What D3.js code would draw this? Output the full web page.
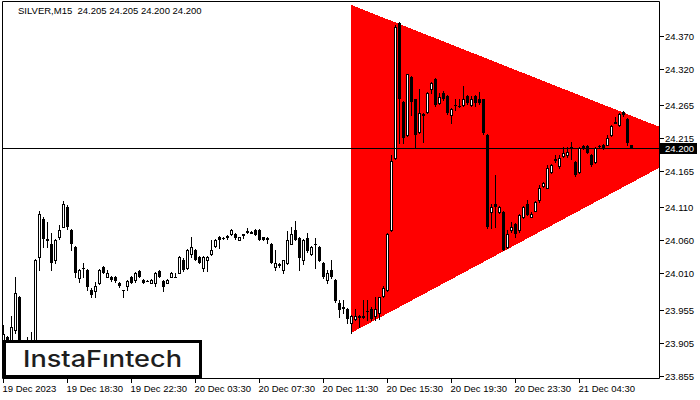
<!DOCTYPE html>
<html>
<head>
<meta charset="utf-8">
<script src="https://cdn.jsdelivr.net/npm/d3@7"></script>
<style>
    body { margin: 0; background: #fff; }
    svg { display: block; }
    text { font-family: "Liberation Sans", Arial, sans-serif; font-size: 9.5px; fill: #000; white-space: pre; }
</style>
</head>
<body>
<svg id="chart" width="700" height="400"></svg>
<script>
// SILVER M15 bars, oldest first
const opens = [
    23.905, 23.913, 23.900, 23.925, 23.974, 23.880, 23.895, 23.900, 23.905, 24.035,
    24.093, 24.061, 24.055, 24.030, 24.065, 24.080, 24.111, 24.076, 24.050, 24.003,
    24.018, 24.015, 23.985, 23.984, 23.996, 24.020, 24.005, 24.005, 24.005, 23.996,
    23.985, 23.991, 24.005, 24.000, 24.014, 24.000, 23.999, 23.996, 23.996, 24.014,
    23.999, 23.996, 24.005, 24.005, 24.011, 24.030, 24.018, 24.039, 24.046, 24.035,
    24.018, 24.030, 24.039, 24.052, 24.066, 24.064, 24.067, 24.070, 24.070, 24.061,
    24.069, 24.074, 24.072, 24.076, 24.076, 24.065, 24.064, 24.055, 24.020, 24.024,
    24.015, 24.026, 24.055, 24.076, 24.064, 24.030, 24.064, 24.039, 24.055, 24.050,
    24.026, 24.000, 24.015, 24.000, 23.965, 23.958, 23.956, 23.935, 23.941, 23.944,
    23.944, 23.953, 23.956, 23.946, 23.950, 23.976, 23.985, 24.076, 24.185, 24.390,
    24.270, 24.220, 24.308, 24.274, 24.225, 24.250, 24.255, 24.290, 24.305, 24.268,
    24.284, 24.279, 24.250, 24.265, 24.264, 24.265, 24.279, 24.265, 24.279, 24.274,
    24.274, 24.220, 24.103, 24.115, 24.103, 24.103, 24.050, 24.076, 24.085, 24.076,
    24.096, 24.115, 24.096, 24.105, 24.121, 24.143, 24.140, 24.164, 24.182, 24.173,
    24.188, 24.190, 24.200, 24.179, 24.164, 24.203, 24.203, 24.190, 24.179, 24.203,
    24.205, 24.205, 24.220, 24.239, 24.235, 24.255, 24.244, 24.205
];
const highs = [
    23.932, 23.915, 23.946, 24.005, 23.976, 23.900, 23.913, 23.921, 24.032, 24.105,
    24.096, 24.088, 24.071, 24.063, 24.083, 24.120, 24.114, 24.078, 24.052, 24.017,
    24.026, 24.017, 23.988, 23.997, 24.017, 24.022, 24.015, 24.006, 24.006, 23.997,
    23.985, 24.000, 24.006, 24.012, 24.015, 24.001, 24.000, 24.001, 24.012, 24.015,
    24.000, 24.001, 24.012, 24.011, 24.036, 24.033, 24.047, 24.065, 24.047, 24.036,
    24.036, 24.036, 24.061, 24.063, 24.067, 24.065, 24.068, 24.078, 24.072, 24.066,
    24.070, 24.079, 24.075, 24.077, 24.077, 24.066, 24.065, 24.056, 24.046, 24.026,
    24.031, 24.075, 24.080, 24.090, 24.065, 24.063, 24.071, 24.052, 24.064, 24.051,
    24.027, 24.015, 24.030, 24.001, 23.970, 23.970, 23.957, 23.947, 23.956, 23.947,
    23.970, 23.970, 23.959, 23.974, 23.975, 23.991, 24.071, 24.190, 24.386, 24.391,
    24.271, 24.313, 24.309, 24.275, 24.290, 24.253, 24.285, 24.300, 24.306, 24.284,
    24.286, 24.280, 24.261, 24.274, 24.274, 24.294, 24.280, 24.279, 24.280, 24.285,
    24.275, 24.221, 24.116, 24.159, 24.112, 24.104, 24.076, 24.088, 24.087, 24.100,
    24.112, 24.121, 24.103, 24.120, 24.144, 24.149, 24.174, 24.176, 24.190, 24.190,
    24.202, 24.202, 24.209, 24.180, 24.201, 24.204, 24.204, 24.191, 24.201, 24.204,
    24.206, 24.220, 24.235, 24.247, 24.253, 24.257, 24.245, 24.205
];
const lows = [
    23.880, 23.880, 23.895, 23.920, 23.870, 23.870, 23.885, 23.890, 23.900, 24.015,
    24.050, 24.050, 24.015, 24.026, 24.063, 24.080, 24.077, 24.046, 24.005, 23.997,
    24.005, 23.985, 23.974, 23.974, 23.994, 24.010, 24.005, 23.999, 23.997, 23.990,
    23.974, 23.985, 23.996, 23.997, 24.004, 23.996, 23.998, 23.995, 23.991, 24.004,
    23.983, 23.995, 24.004, 24.004, 24.010, 24.014, 24.017, 24.035, 24.030, 24.026,
    24.014, 24.014, 24.038, 24.050, 24.049, 24.063, 24.063, 24.068, 24.063, 24.060,
    24.064, 24.072, 24.072, 24.068, 24.061, 24.060, 24.056, 24.026, 24.015, 24.020,
    24.011, 24.025, 24.054, 24.061, 24.015, 24.025, 24.042, 24.038, 24.018, 24.029,
    24.003, 23.996, 24.003, 23.967, 23.944, 23.950, 23.935, 23.920, 23.939, 23.929,
    23.943, 23.939, 23.939, 23.939, 23.941, 23.974, 23.983, 24.074, 24.183, 24.208,
    24.208, 24.218, 24.250, 24.202, 24.223, 24.209, 24.253, 24.284, 24.264, 24.267,
    24.273, 24.252, 24.238, 24.258, 24.263, 24.264, 24.267, 24.264, 24.264, 24.267,
    24.222, 24.079, 24.079, 24.080, 24.102, 24.045, 24.048, 24.073, 24.065, 24.073,
    24.094, 24.098, 24.095, 24.104, 24.119, 24.141, 24.139, 24.162, 24.179, 24.170,
    24.186, 24.186, 24.183, 24.158, 24.162, 24.199, 24.192, 24.173, 24.178, 24.201,
    24.199, 24.204, 24.218, 24.238, 24.234, 24.249, 24.205, 24.200
];
const closes = [
    23.918, 23.895, 23.929, 23.980, 23.880, 23.895, 23.900, 23.905, 24.030, 24.100,
    24.063, 24.063, 24.026, 24.061, 24.076, 24.115, 24.080, 24.055, 24.011, 24.015,
    24.017, 23.989, 23.977, 23.991, 24.015, 24.011, 24.011, 24.000, 23.999, 23.991,
    23.985, 23.999, 23.996, 24.011, 24.005, 23.996, 23.999, 24.000, 24.011, 24.005,
    23.989, 24.000, 24.011, 24.005, 24.035, 24.015, 24.046, 24.050, 24.030, 24.026,
    24.035, 24.035, 24.046, 24.061, 24.060, 24.064, 24.064, 24.076, 24.064, 24.065,
    24.070, 24.075, 24.073, 24.068, 24.061, 24.061, 24.061, 24.026, 24.026, 24.021,
    24.030, 24.061, 24.070, 24.061, 24.034, 24.061, 24.044, 24.050, 24.055, 24.029,
    24.004, 24.011, 24.004, 23.968, 23.955, 23.959, 23.941, 23.946, 23.946, 23.945,
    23.946, 23.952, 23.941, 23.956, 23.974, 23.988, 24.070, 24.180, 24.384, 24.274,
    24.215, 24.312, 24.270, 24.220, 24.253, 24.251, 24.284, 24.299, 24.265, 24.278,
    24.274, 24.253, 24.259, 24.265, 24.264, 24.274, 24.268, 24.274, 24.268, 24.268,
    24.223, 24.080, 24.111, 24.110, 24.111, 24.046, 24.070, 24.080, 24.070, 24.099,
    24.111, 24.099, 24.100, 24.118, 24.140, 24.147, 24.170, 24.174, 24.183, 24.185,
    24.193, 24.194, 24.201, 24.159, 24.200, 24.200, 24.193, 24.174, 24.200, 24.202,
    24.200, 24.215, 24.234, 24.240, 24.252, 24.250, 24.208, 24.200
];

const timeTickBars = [0, 16, 32, 48, 64, 80, 96, 112, 128, 144];
const timeLabels = ['19 Dec 2023', '19 Dec 18:30', '19 Dec 22:30', '20 Dec 03:30', '20 Dec 07:30',
    '20 Dec 11:30', '20 Dec 15:30', '20 Dec 19:30', '20 Dec 23:30', '21 Dec 04:30'];
const priceTicks = [24.370, 24.320, 24.265, 24.215, 24.165, 24.110, 24.060, 24.010, 23.955, 23.905, 23.855];

// symmetrical triangle pattern: left top, apex, left bottom
const triangleBars = [87, 175, 87];
const trianglePrices = [24.417, 24.206, 23.920];

const lastPrice = 24.200;
const symbol = 'SILVER,M15';

const plotLeft = 3, plotRight = 659, plotTop = 2, plotBottom = 378;
const svg = d3.select('#chart');

const x = d3.scaleLinear().domain([0, 164]).range([3.3, 659.3]);
const y = d3.scaleLinear().domain([23.855, 24.370]).range([375.7, 36]);

svg.append('clipPath').attr('id', 'plot')
    .append('rect').attr('x', plotLeft).attr('y', plotTop)
    .attr('width', plotRight - plotLeft).attr('height', plotBottom - plotTop);

const plot = svg.append('g').attr('clip-path', 'url(#plot)');

// triangle
plot.append('polygon')
    .attr('points', triangleBars.map((b, i) => x(b) + ',' + y(trianglePrices[i])).join(' '))
    .attr('fill', '#ff0000')
    .attr('shape-rendering', 'crispEdges');

// candles
const bars = d3.range(opens.length);
const cx = i => Math.round(x(i));
const py = v => Math.round(y(v));
const isUp = i => closes[i] > opens[i];

const candle = plot.selectAll('.candle').data(bars).enter().append('g').attr('class', 'candle');

candle.append('line')
    .attr('x1', i => cx(i) + 0.5).attr('x2', i => cx(i) + 0.5)
    .attr('y1', i => py(highs[i])).attr('y2', i => py(lows[i]) + 1)
    .attr('stroke', '#000').attr('stroke-width', 1)
    .attr('shape-rendering', 'crispEdges');

candle.append('rect')
    .attr('x', i => isUp(i) ? cx(i) - 0.5 : cx(i) - 1)
    .attr('y', i => py(Math.max(opens[i], closes[i])) + (isUp(i) ? 0.5 : 0))
    .attr('width', i => isUp(i) ? 2 : 3)
    .attr('height', i => Math.max(1, py(Math.min(opens[i], closes[i])) - py(Math.max(opens[i], closes[i]))))
    .attr('fill', i => isUp(i) ? '#fff' : '#000')
    .attr('stroke', i => isUp(i) ? '#000' : 'none')
    .attr('stroke-width', 1);

// bid line
plot.append('line')
    .attr('x1', plotLeft).attr('x2', plotRight)
    .attr('y1', py(lastPrice) + 0.5).attr('y2', py(lastPrice) + 0.5)
    .attr('stroke', '#000').attr('stroke-width', 1);

// frame
svg.append('path')
    .attr('d', `M${plotLeft - 0.5},${plotBottom + 0.5}V${plotTop - 0.5}H${plotRight + 0.5}V${plotBottom + 0.5}H${plotLeft - 0.5}`)
    .attr('fill', 'none').attr('stroke', '#000').attr('stroke-width', 1);

// price axis
const yAxis = svg.append('g');
priceTicks.forEach(v => {
    let t = py(v) + 0.5;
    yAxis.append('line').attr('x1', plotRight + 1).attr('x2', plotRight + 5).attr('y1', t).attr('y2', t)
        .attr('stroke', '#000');
    yAxis.append('text').attr('x', 665).attr('y', t + 3.5).text(v.toFixed(3));
});

yAxis.append('rect')
    .attr('x', plotRight + 1).attr('y', py(lastPrice) - 5).attr('width', 37).attr('height', 11)
    .attr('fill', '#000');
yAxis.append('text').attr('x', 665).attr('y', py(lastPrice) + 4)
    .style('fill', '#fff').text(lastPrice.toFixed(3));

// time axis
const xAxis = svg.append('g');
timeTickBars.forEach((b, i) => {
    let t = cx(b) + 0.5;
    xAxis.append('line').attr('x1', t).attr('x2', t).attr('y1', plotBottom).attr('y2', plotBottom + 5)
        .attr('stroke', '#000');
    xAxis.append('text').attr('x', cx(b) - 0.5).attr('y', 392).text(timeLabels[i]);
});

// header
const last = opens.length - 1;
svg.append('text').attr('x', 18).attr('y', 14)
    .text(symbol + '  ' + [opens[last], highs[last], lows[last], closes[last]].map(v => v.toFixed(3)).join(' '));

// watermark
svg.append('rect')
    .attr('x', 4.5).attr('y', 341.5).attr('width', 196).attr('height', 35)
    .attr('fill', '#fff').attr('stroke', '#000').attr('stroke-width', 3);
svg.append('text')
    .attr('x', 23).attr('y', 367)
    .attr('textLength', 159).attr('lengthAdjust', 'spacingAndGlyphs')
    .style('font-family', 'Inter, "Noto Sans", sans-serif')
    .style('font-size', '23px').style('font-weight', 500).style('fill', '#1e1e1e')
    .text('InstaF\u0131ntech');
</script>
</body>
</html>
